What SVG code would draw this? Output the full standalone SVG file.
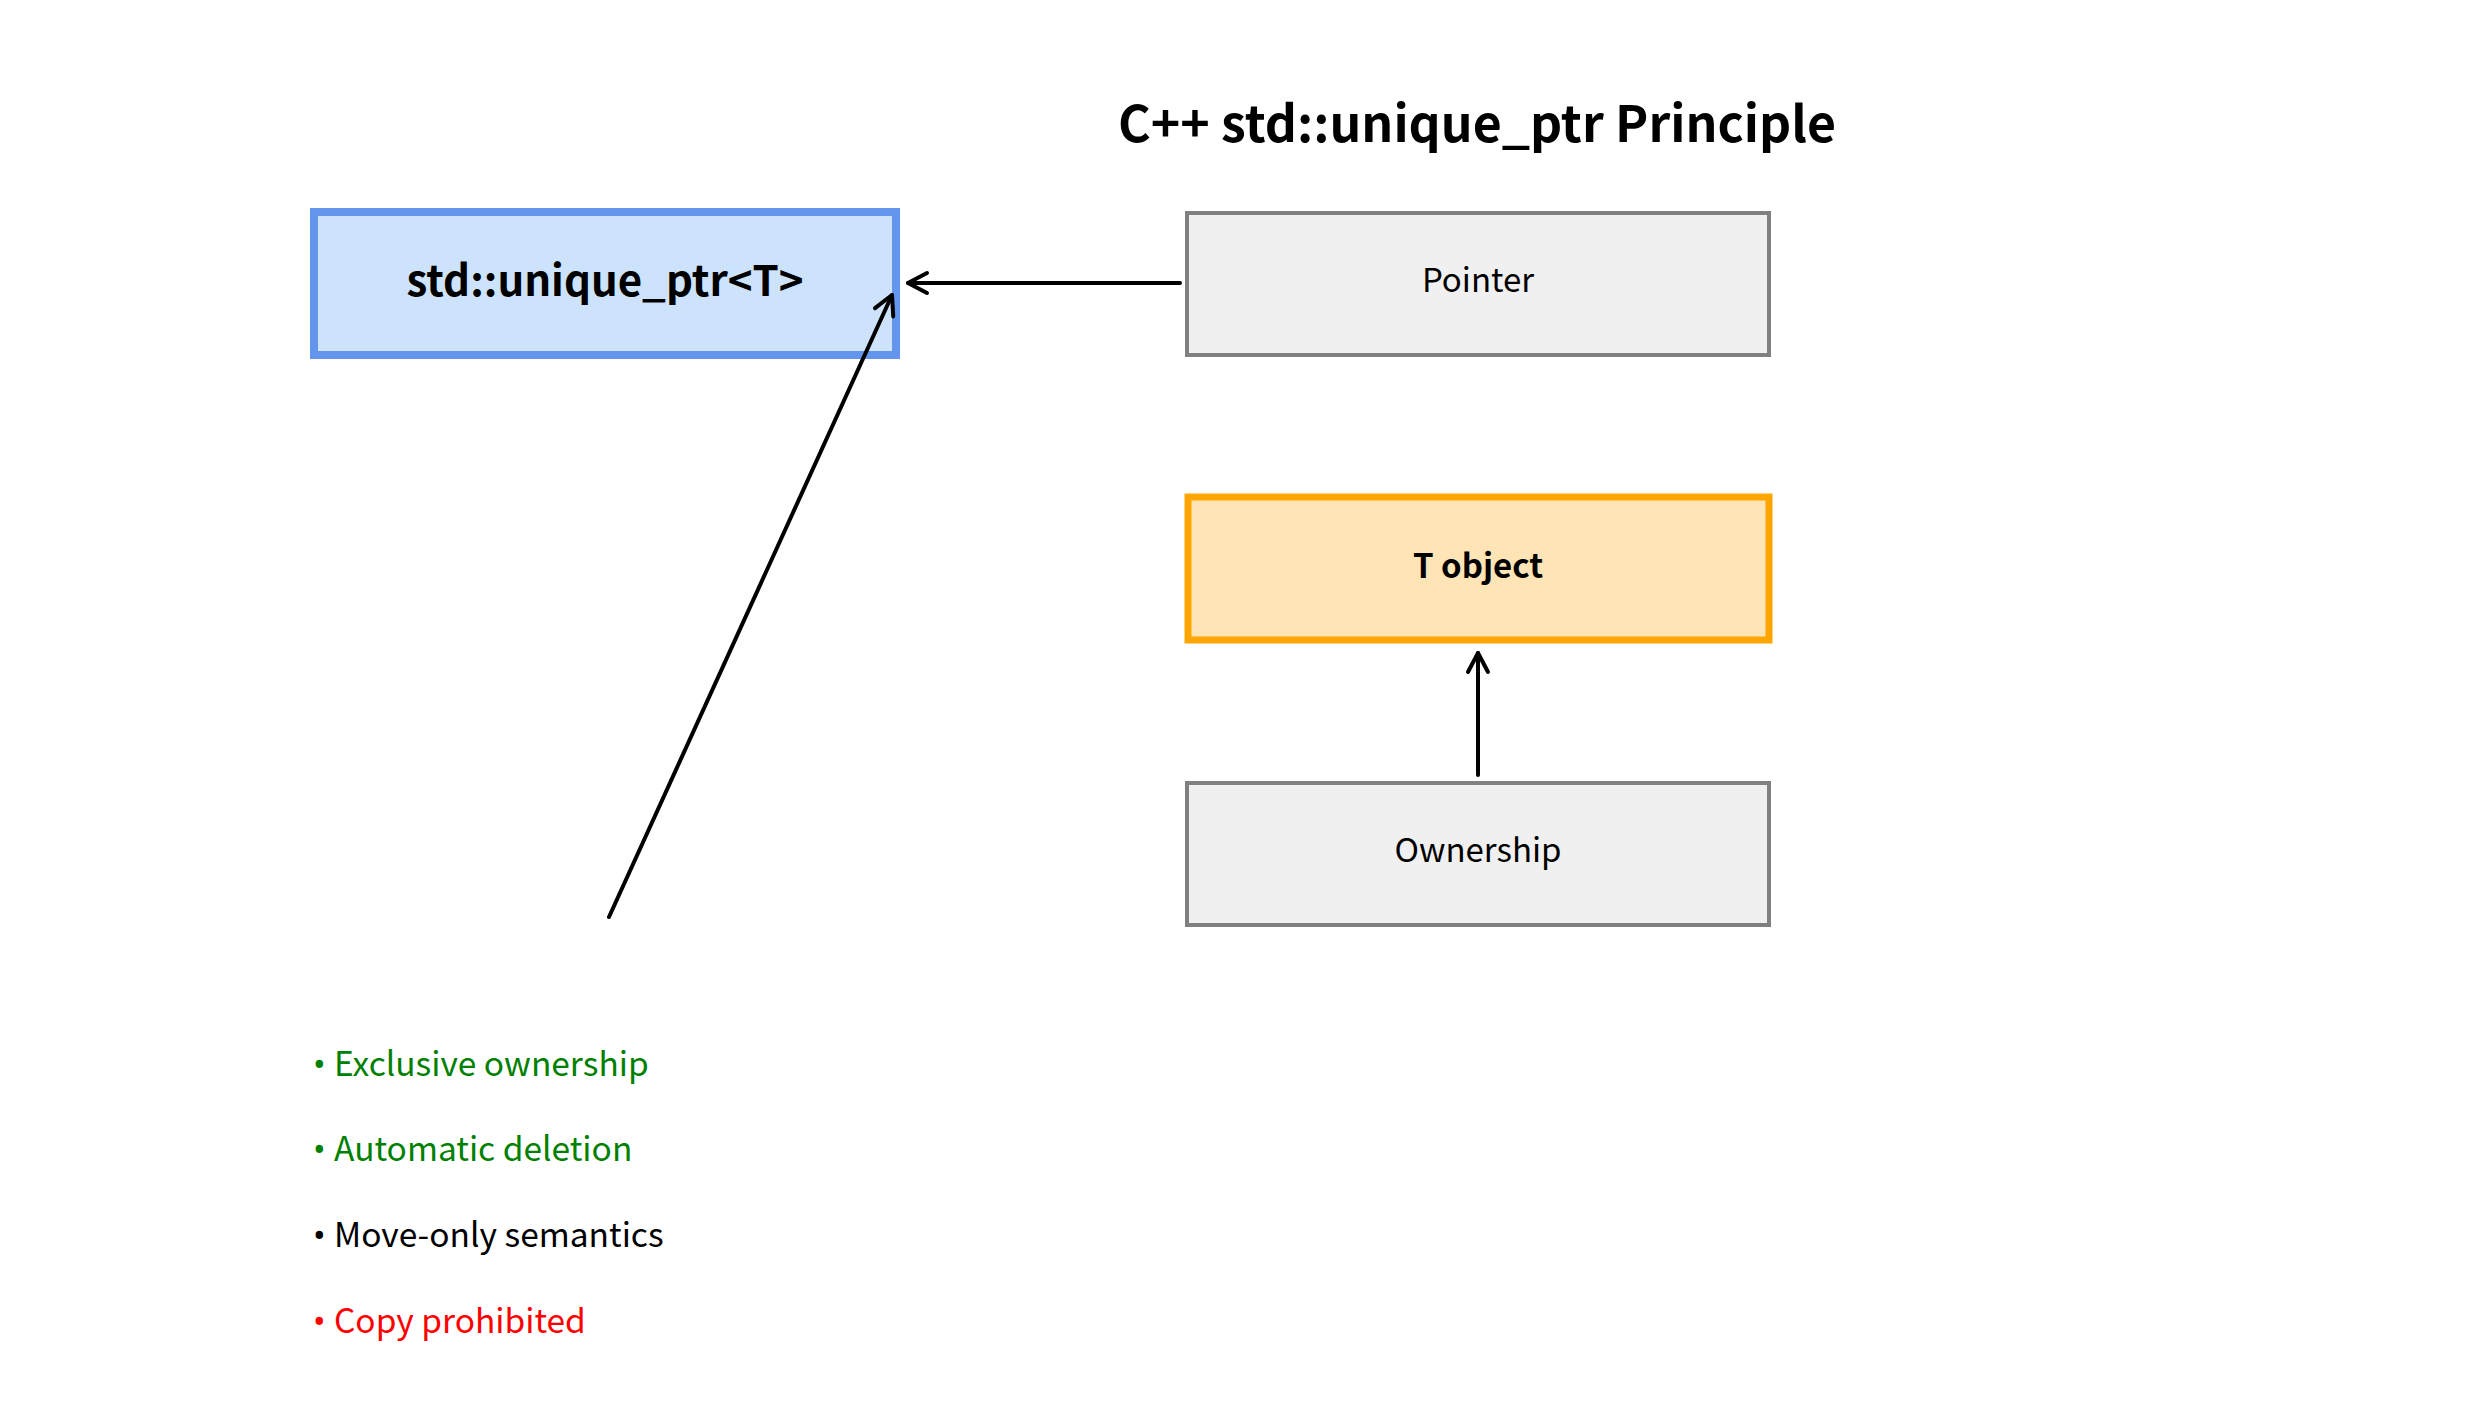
<svg xmlns="http://www.w3.org/2000/svg" width="2482" height="1419" viewBox="0 0 2482 1419">
<style>
text{font-family:"Noto Sans CJK SC","Noto Sans",sans-serif;}
.lbl{font-size:33px;text-anchor:middle;fill:#000;}
.b{font-weight:bold;}
.bul{font-size:33.5px;}
.dot{font-family:"Noto Sans",sans-serif;}
.gray{fill:#f0f0f0;stroke:#808080;stroke-width:4;}
.conn{stroke:#000;stroke-width:4;fill:none;stroke-linecap:round;}
</style>
<defs>
<marker id="arr" markerUnits="userSpaceOnUse" markerWidth="40" markerHeight="40" viewBox="-30 -20 40 40" refX="0" refY="0" orient="auto">
<path d="M-19,-10 L0,0 L-19,10" fill="none" stroke="#000" stroke-width="4" stroke-linecap="round" stroke-linejoin="round"/>
</marker>
</defs>
<rect width="2482" height="1419" fill="#fff"/>
<text x="1477" y="142" text-anchor="middle" class="b" style="font-size:50px">C++ std::unique_ptr Principle</text>
<g id="unique_ptr">
<rect x="314" y="212" width="582" height="143" fill="#cde3fc" stroke="#6495ed" stroke-width="8"/>
<text x="605" y="296" class="lbl b" style="font-size:42px">std::unique_ptr&lt;T&gt;</text>
</g>
<g id="pointer">
<rect x="1187" y="213" width="582" height="142" class="gray"/>
<text x="1478" y="292" class="lbl">Pointer</text>
</g>
<g id="tobject">
<rect x="1188" y="497" width="581" height="143" fill="#ffe4b5" stroke="#ffa500" stroke-width="7"/>
<text x="1478" y="578" class="lbl b">T object</text>
</g>
<g id="ownership">
<rect x="1187" y="783" width="582" height="142" class="gray"/>
<text x="1478" y="862" class="lbl">Ownership</text>
</g>
<g id="connectors">
<line x1="1180" y1="283" x2="908" y2="283" class="conn" marker-end="url(#arr)"/>
<line x1="1478" y1="775" x2="1478" y2="653" class="conn" marker-end="url(#arr)"/>
<line x1="609" y1="917" x2="892" y2="295" class="conn" marker-end="url(#arr)"/>
</g>
<g id="notes" class="bul">
<text x="313" y="1076" fill="#008000"><tspan class="dot">•</tspan><tspan x="334">Exclusive ownership</tspan></text>
<text x="313" y="1161" fill="#008000"><tspan class="dot">•</tspan><tspan x="334">Automatic deletion</tspan></text>
<text x="313" y="1247" fill="#000"><tspan class="dot">•</tspan><tspan x="334">Move-only semantics</tspan></text>
<text x="313" y="1333" fill="#ff0000"><tspan class="dot">•</tspan><tspan x="334">Copy prohibited</tspan></text>
</g>
</svg>
